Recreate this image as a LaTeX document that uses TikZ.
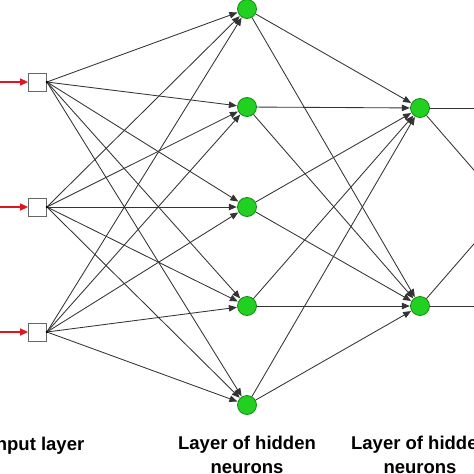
\documentclass[tikz,border=0pt]{standalone}
\usepackage{fontspec}
\setmainfont{Liberation Sans}
\usetikzlibrary{arrows.meta}
\definecolor{nodegreen}{HTML}{22D022}
\definecolor{nodeborder}{HTML}{138A13}
\definecolor{arrowred}{HTML}{E0161E}
\definecolor{linegray}{HTML}{333333}
\tikzset{
  inbox/.style={draw=black!60, fill=white, line width=0.8pt, minimum size=18pt, inner sep=0pt},
  neuron/.style={circle, draw=nodeborder, fill=nodegreen, line width=0.8pt, minimum size=19pt, inner sep=0pt},
  conn/.style={draw=linegray, line width=0.85pt, -{Triangle[length=8pt,width=6.5pt]}, shorten >=0.3pt},
  plain/.style={draw=linegray, line width=0.85pt},
  inarrow/.style={draw=arrowred, line width=1.6pt, -{Triangle[length=8pt,width=7pt]}},
  lbl/.style={font=\fontsize{18.5}{24}\selectfont\bfseries, align=center, anchor=north, inner sep=0pt}
}
\begin{document}
\begin{tikzpicture}[x=1pt,y=-1pt]
\useasboundingbox (0,0) rectangle (474,474);
\clip (0,0) rectangle (474,474);
% input layer
\node[inbox] (i1) at (37.5,82) {};
\node[inbox] (i2) at (37.5,207) {};
\node[inbox] (i3) at (37.5,332) {};
\coordinate (s1) at (-2,82);
\coordinate (s2) at (-2,207);
\coordinate (s3) at (-2,332);
% hidden layer 1
\node[neuron] (h1) at (247,9) {};
\node[neuron] (h2) at (247,107) {};
\node[neuron] (h3) at (247,207) {};
\node[neuron] (h4) at (247,306) {};
\node[neuron] (h5) at (247,405) {};
% hidden layer 2
\node[neuron] (g1) at (420,108) {};
\node[neuron] (g2) at (420,306) {};
% off-canvas next layer
\coordinate (o1) at (540,108);
\coordinate (o2) at (506,207);
\coordinate (o3) at (540,306);
% red input arrows
\foreach \k in {1,2,3} {
  \draw[inarrow] (s\k) -- (i\k.west);
}
% input to hidden 1
\foreach \k in {1,2,3} {
  \foreach \j in {1,...,5} {
    \draw[conn] (i\k.east) -- (h\j);
  }
  \fill[black] (i\k.east) circle (1.2pt);
}
% hidden 1 to hidden 2
\foreach \j in {1,...,5} {
  \draw[conn] (h\j) -- (g1);
  \draw[conn] (h\j) -- (g2);
}
% hidden 2 onward
\draw[plain] (g1) -- (o1);
\draw[plain] (g1) -- (o2);
\draw[plain] (g2) -- (o2);
\draw[plain] (g2) -- (o3);
% labels
\node[lbl] (l1) at (37.5,437) {Input layer};
\node[lbl] (l2) at (247,436) {Layer of hidden\\neurons};
\node[lbl] (l3) at (420,436) {Layer of hidden\\neurons};
\end{tikzpicture}
\end{document}
